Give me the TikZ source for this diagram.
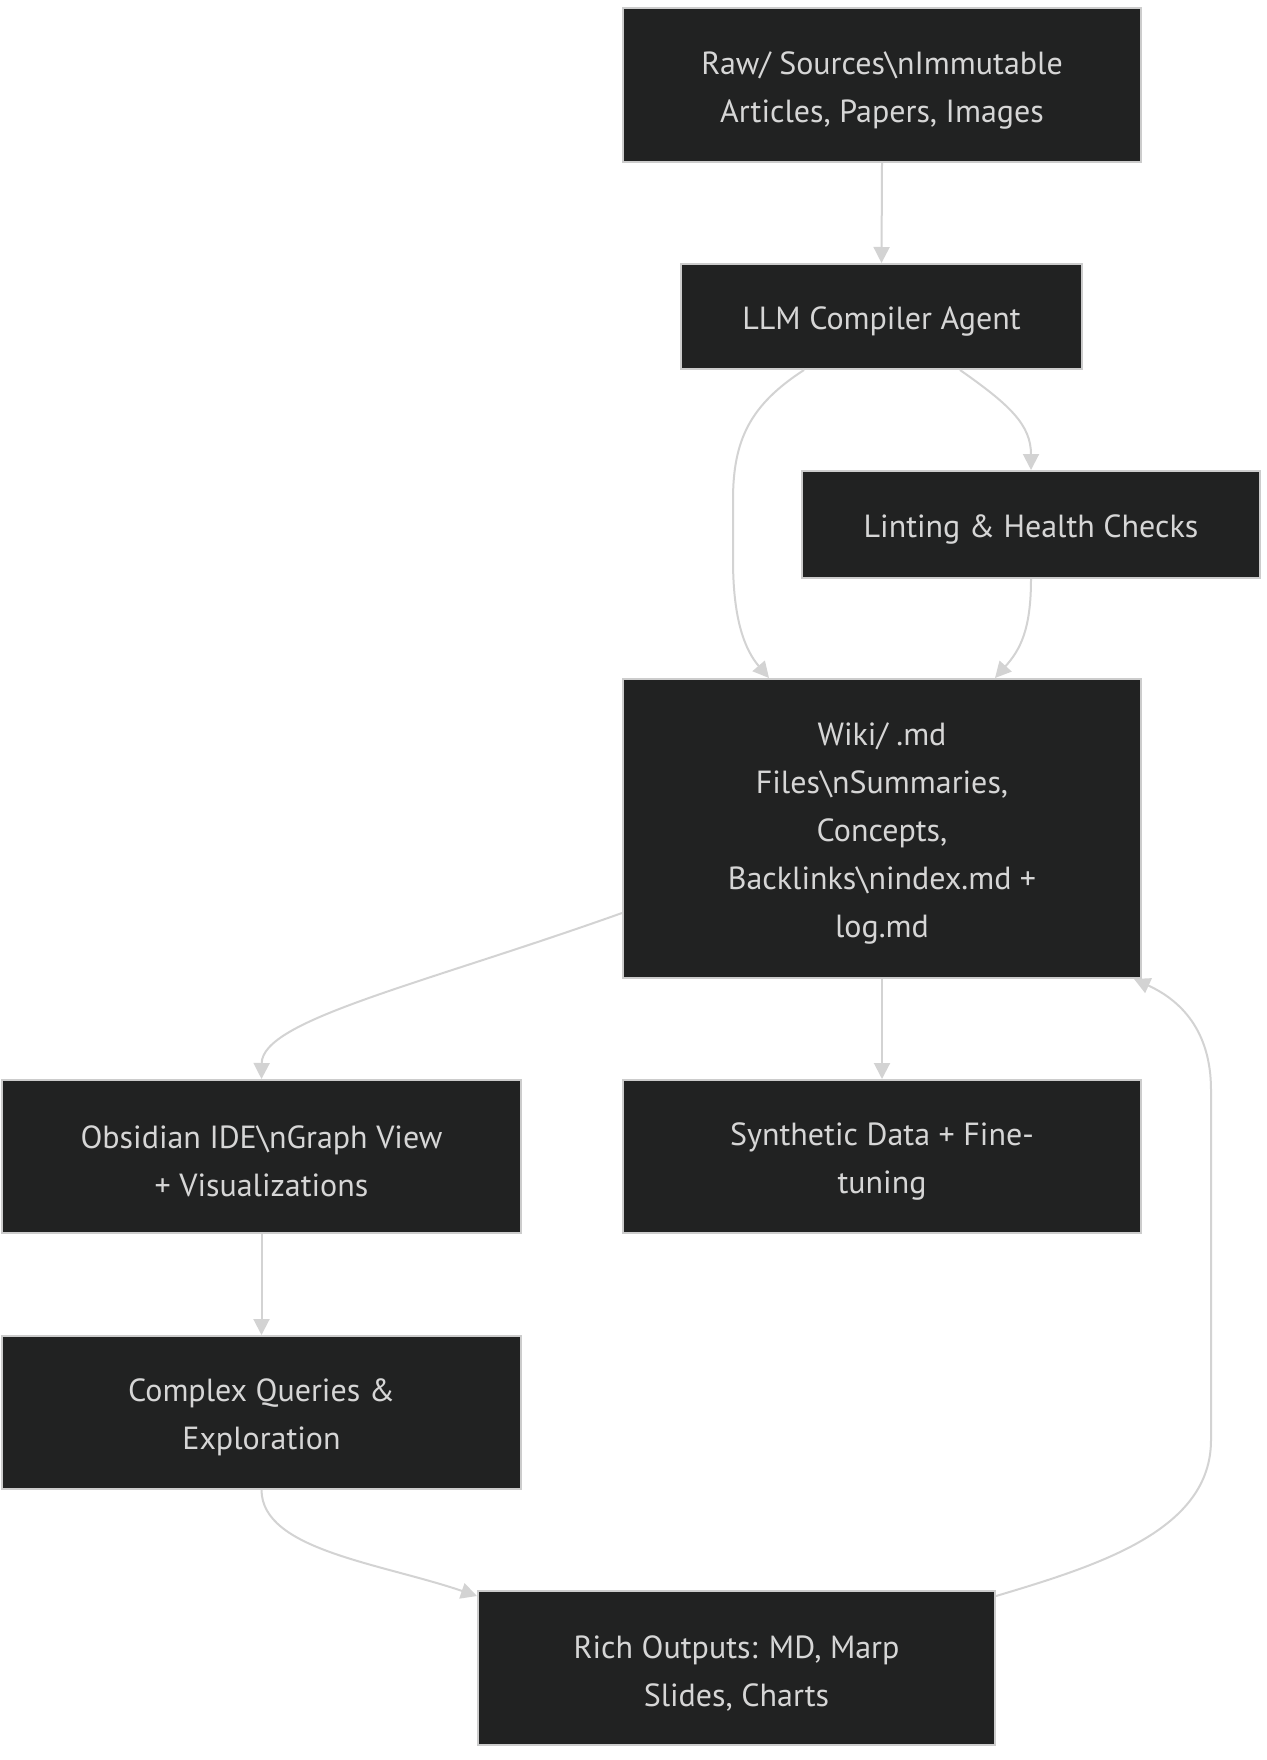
\documentclass[tikz,border=0pt]{standalone}
\usepackage{fontspec}
\setmainfont{PT Sans}
\usetikzlibrary{arrows.meta}
\definecolor{boxfill}{HTML}{212222}
\definecolor{boxline}{HTML}{CCCCCC}
\definecolor{edgeline}{HTML}{D3D3D3}
\definecolor{boxtext}{HTML}{D6D6D6}
\newcommand{\topstrut}{\rule{0pt}{16.5pt}}
\begin{document}
\begin{tikzpicture}[x=0.5pt, y=-0.5pt,
  box/.style={draw=boxline, line width=1pt, fill=boxfill, text=boxtext, align=center, inner sep=0pt, font=\fontsize{16}{24}\selectfont},
  flow/.style={draw=edgeline, line width=1pt, -{Triangle[length=8pt,width=8pt]}}]
\useasboundingbox (0,0) rectangle (1266,1760);
\node[box, minimum width=259pt, minimum height=77pt] (raw) at (882,85) {\topstrut Raw/ Sources\textbackslash nImmutable\\Articles, Papers, Images};
\node[box, minimum width=200.5pt, minimum height=52.5pt] (llm) at (881.5,316.5) {\topstrut LLM Compiler Agent};
\node[box, minimum width=229pt, minimum height=53.5pt] (lint) at (1031,524.5) {\topstrut Linting \& Health Checks};
\node[box, minimum width=259pt, minimum height=149.5pt] (wiki) at (882,828.5) {\topstrut Wiki/ .md\\Files\textbackslash nSummaries,\\Concepts,\\Backlinks\textbackslash nindex.md +\\log.md};
\node[box, minimum width=259.5pt, minimum height=76.5pt] (obs) at (261.5,1156.5) {\topstrut Obsidian IDE\textbackslash nGraph View\\+ Visualizations};
\node[box, minimum width=259pt, minimum height=76.5pt] (syn) at (882,1156.5) {\topstrut Synthetic Data + Fine-\\tuning};
\node[box, minimum width=259.5pt, minimum height=76.5pt] (cq) at (261.5,1412.5) {\topstrut Complex Queries \&\\Exploration};
\node[box, minimum width=258.5pt, minimum height=77pt] (rich) at (736.5,1668) {\topstrut Rich Outputs: MD, Marp\\Slides, Charts};
% connectors
\draw[flow] (raw.south) -- (llm.north);
\draw[flow] ([xshift=-38.75pt]llm.south) .. controls (750,405) and (733,440) .. (733,500) -- (733,560) .. controls (733,620) and (745,650) .. ([xshift=-56.5pt]wiki.north);
\draw[flow] ([xshift=39.25pt]llm.south) .. controls (1010,405) and (1031,425) .. (lint.north);
\draw[flow] (lint.south) .. controls (1031,630) and (1020,650) .. ([xshift=56.5pt]wiki.north);
\draw[flow] ([yshift=-42.25pt]wiki.west) .. controls (420,985) and (262,1020) .. (obs.north);
\draw[flow] (wiki.south) -- (syn.north);
\draw[flow] (obs.south) -- (cq.north);
\draw[flow] (cq.south) .. controls (262,1550) and (380,1563) .. ([yshift=-3pt]rich.north west);
\draw[flow] ([yshift=-3pt]rich.north east) .. controls (1100,1565) and (1211,1530) .. (1211,1440) -- (1211,1090) .. controls (1211,1030) and (1180,1000) .. ([xshift=-4pt]wiki.south east);
\end{tikzpicture}
\end{document}
